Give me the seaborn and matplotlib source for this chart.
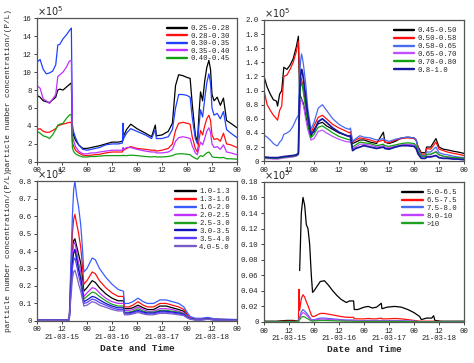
import numpy as np
import pandas as pd
import matplotlib
matplotlib.use('Agg')
import matplotlib.pyplot as plt
import seaborn as sns
from matplotlib.ticker import FuncFormatter

# hours since 21-03-15 00:00, values in units of 1e5 P/L

# ---- panel a: 0.25 - 0.45 um
t_a = [0, 1.5, 3, 4.5, 6, 7.5, 9, 10, 11, 12.5, 14, 15.5, 16.5, 17, 17.5, 18.5, 20, 22, 24, 26,
       28, 30, 33, 36, 39, 41, 41.3, 41.6, 43, 45, 48, 52, 55, 56.8, 57.3, 60, 63, 65, 66.5, 68,
       70, 72, 73.5, 74.5, 76, 77, 77.8, 78.5, 79.5, 80.5, 81.5, 82.5, 83.3, 84, 85, 86.5, 88, 89.5, 91, 93,
       96]
a_025_028 = [7.4, 7.2, 6.8, 6.7, 6.6, 6.9, 7.2, 8.0, 8.1, 8.0, 8.3, 8.6, 8.8, 3.6, 3.0, 2.4, 1.9, 1.5, 1.5, 1.6,
             1.7, 1.8, 2.0, 2.2, 2.2, 2.3, 2.4, 2.9, 3.6, 4.2, 3.7, 3.2, 2.8, 4.1, 2.9, 3.0, 3.4, 4.3, 8.5, 9.7,
             9.6, 9.4, 9.3, 6.5, 3.0, 2.2, 5.5, 7.8, 6.8, 9.0, 10.5, 11.3, 10.3, 7.5, 6.8, 7.2, 6.3, 7.1, 4.6, 4.3,
             3.8]
a_028_030 = [3.6, 3.7, 3.4, 3.3, 3.3, 3.5, 3.7, 4.0, 4.1, 4.2, 4.3, 4.4, 4.4, 2.2, 1.8, 1.3, 1.0, 0.75, 0.7, 0.75,
             0.8, 0.85, 1.0, 1.1, 1.1, 1.1, 1.3, 1.3, 1.5, 1.7, 1.5, 1.4, 1.3, 1.3, 1.2, 1.3, 1.5, 2.0, 3.5, 4.3,
             4.4, 4.3, 4.2, 2.8, 1.5, 1.1, 2.5, 3.5, 3.0, 4.0, 4.8, 5.2, 4.6, 3.0, 2.5, 2.6, 2.3, 3.2, 2.0, 1.9,
             1.6]
a_030_035 = [11.1, 11.4, 10.3, 9.8, 9.9, 10.1, 10.8, 13.0, 13.1, 13.7, 14.1, 14.6, 14.9, 4.2, 3.4, 2.7, 1.9, 1.4, 1.3, 1.4,
             1.5, 1.6, 1.9, 2.0, 2.0, 2.1, 4.3, 2.6, 3.2, 3.7, 3.4, 3.0, 2.6, 3.6, 2.6, 2.6, 2.8, 3.6, 6.0, 7.5,
             7.5, 7.4, 7.2, 5.0, 2.6, 2.0, 4.2, 5.8, 5.0, 7.0, 8.8, 9.8, 8.8, 6.0, 5.2, 5.4, 4.8, 5.6, 3.6, 3.2,
             2.7]
a_035_040 = [8.5, 8.2, 7.0, 6.8, 6.5, 7.0, 7.5, 9.5, 9.7, 10.0, 10.5, 11.2, 11.3, 3.0, 2.4, 1.7, 1.2, 0.9, 0.9, 1.0,
             1.0, 1.1, 1.2, 1.3, 1.3, 1.3, 1.6, 1.4, 1.6, 1.6, 1.4, 1.2, 1.1, 1.1, 1.0, 1.0, 1.1, 1.4, 2.3, 2.7,
             2.8, 2.7, 2.6, 1.8, 1.0, 0.8, 1.6, 2.2, 1.9, 2.6, 3.4, 3.8, 3.3, 2.0, 1.6, 1.7, 1.4, 1.9, 1.1, 1.0,
             0.8]
a_040_045 = [3.4, 3.2, 2.9, 2.8, 2.6, 3.0, 3.6, 4.1, 4.2, 4.3, 4.8, 5.2, 5.3, 1.6, 1.2, 0.9, 0.7, 0.55, 0.55, 0.6,
             0.6, 0.65, 0.7, 0.7, 0.7, 0.7, 0.75, 0.7, 0.7, 0.75, 0.7, 0.6, 0.55, 0.6, 0.55, 0.55, 0.6, 0.7, 0.85, 0.9,
             0.9, 0.85, 0.8, 0.6, 0.4, 0.3, 0.55, 0.7, 0.6, 0.8, 1.0, 1.1, 0.9, 0.6, 0.5, 0.5, 0.45, 0.5, 0.35, 0.35,
             0.3]

# ---- panel b: 0.45 - 1.0 um
t_b = [0, 1.5, 3, 4.5, 6, 6.5, 7.5, 8.5, 9.5, 11, 12.5, 14, 15.5, 16.5,
       17, 17.5, 18, 18.5, 19, 20, 21, 22.5,
       24, 26, 28, 30, 33, 36, 39, 41, 41.5, 42.5, 44, 46, 48, 51, 54, 57.3, 58, 60, 63, 66,
       69, 72, 73, 74, 75.5, 77.5, 78, 80, 82.5, 84, 86, 88, 91, 93, 96]
b_045_050 = [1.2, 1.05, 0.95, 0.87, 0.85, 0.78, 0.95, 1.0, 1.33, 1.3, 1.36, 1.45, 1.62, 1.77,
             1.0, 0.92, 0.88, 0.85, 0.8, 0.65, 0.5, 0.35,
             0.45, 0.53, 0.55, 0.5, 0.45, 0.4, 0.37, 0.35, 0.37, 0.25, 0.27, 0.3, 0.3, 0.27, 0.25, 0.41, 0.27, 0.25, 0.28, 0.33,
             0.34, 0.33, 0.3, 0.2, 0.12, 0.12, 0.2, 0.2, 0.32, 0.2, 0.17, 0.16, 0.14, 0.13, 0.11]
b_050_058 = [1.0, 0.8, 0.72, 0.65, 0.6, 0.58, 0.72, 0.78, 1.2, 1.22, 1.3, 1.4, 1.55, 1.7,
             1.25, 1.2, 1.15, 1.1, 1.0, 0.8, 0.6, 0.4,
             0.5, 0.62, 0.65, 0.6, 0.52, 0.47, 0.43, 0.4, 0.42, 0.27, 0.3, 0.33, 0.32, 0.3, 0.27, 0.3, 0.27, 0.26, 0.3, 0.32,
             0.33, 0.32, 0.3, 0.18, 0.1, 0.1, 0.18, 0.17, 0.27, 0.17, 0.15, 0.13, 0.11, 0.1, 0.08]
b_058_065 = [0.37, 0.34, 0.3, 0.25, 0.22, 0.22, 0.27, 0.3, 0.38, 0.4, 0.43, 0.5, 0.6, 0.65,
             1.1, 1.4, 1.52, 1.45, 1.35, 1.1, 0.75, 0.45,
             0.55, 0.75, 0.8, 0.72, 0.6, 0.52, 0.47, 0.45, 0.47, 0.28, 0.32, 0.36, 0.34, 0.33, 0.3, 0.32, 0.3, 0.28, 0.31, 0.33,
             0.34, 0.33, 0.3, 0.17, 0.08, 0.08, 0.13, 0.13, 0.2, 0.12, 0.1, 0.09, 0.07, 0.06, 0.05]
b_065_070 = [0.04, 0.035, 0.035, 0.03, 0.03, 0.03, 0.035, 0.04, 0.045, 0.05, 0.055, 0.06, 0.07, 0.09,
             0.6, 0.85, 0.88, 0.82, 0.78, 0.6, 0.45, 0.3,
             0.32, 0.42, 0.44, 0.4, 0.35, 0.31, 0.28, 0.27, 0.28, 0.18, 0.2, 0.24, 0.24, 0.23, 0.2, 0.22, 0.2, 0.19, 0.21, 0.23,
             0.24, 0.23, 0.2, 0.12, 0.06, 0.06, 0.09, 0.09, 0.14, 0.09, 0.07, 0.06, 0.05, 0.05, 0.04]
b_070_080 = [0.05, 0.045, 0.04, 0.04, 0.04, 0.04, 0.045, 0.05, 0.055, 0.06, 0.065, 0.07, 0.08, 0.1,
             0.8, 1.05, 1.12, 1.05, 0.95, 0.75, 0.55, 0.33,
             0.38, 0.48, 0.5, 0.46, 0.4, 0.35, 0.32, 0.3, 0.32, 0.2, 0.23, 0.27, 0.26, 0.25, 0.22, 0.24, 0.22, 0.21, 0.23, 0.25,
             0.26, 0.25, 0.22, 0.13, 0.07, 0.07, 0.1, 0.1, 0.13, 0.09, 0.07, 0.06, 0.05, 0.05, 0.04]
b_080_100 = [0.06, 0.055, 0.05, 0.05, 0.05, 0.05, 0.055, 0.06, 0.065, 0.07, 0.075, 0.08, 0.09, 0.11,
             0.9, 1.2, 1.3, 1.25, 1.15, 0.9, 0.65, 0.38,
             0.42, 0.56, 0.6, 0.55, 0.47, 0.41, 0.37, 0.35, 0.36, 0.15, 0.18, 0.2, 0.22, 0.2, 0.18, 0.2, 0.18, 0.17, 0.2, 0.22,
             0.22, 0.21, 0.18, 0.1, 0.04, 0.04, 0.06, 0.06, 0.08, 0.05, 0.04, 0.04, 0.03, 0.03, 0.02]

# ---- panel c: 1.0 - 5.0 um
t_c = [0, 8, 14, 15.5, 16.2, 17, 17.6, 18.2, 19, 20, 21, 21.8, 22.5, 24, 26.5, 28, 30, 33, 36, 39,
       41.5, 42, 44, 46, 48.5, 51, 53, 56, 59, 62, 65, 68, 70.5, 72, 73.5, 76, 79, 82, 85, 90, 96]
c_10_13 = [0.004, 0.004, 0.005, 0.008, 0.2, 0.4, 0.46, 0.47, 0.43, 0.38, 0.33, 0.25, 0.17, 0.19, 0.23, 0.22, 0.19, 0.155, 0.13, 0.115,
           0.115, 0.07, 0.07, 0.075, 0.09, 0.075, 0.065, 0.065, 0.085, 0.085, 0.075, 0.065, 0.055, 0.035, 0.018, 0.01, 0.01, 0.015, 0.009, 0.007, 0.005]
c_13_16 = [0.004, 0.004, 0.005, 0.01, 0.25, 0.5, 0.58, 0.61, 0.56, 0.5, 0.42, 0.32, 0.21, 0.23, 0.28, 0.27, 0.23, 0.19, 0.16, 0.14,
           0.14, 0.08, 0.08, 0.09, 0.11, 0.09, 0.08, 0.08, 0.1, 0.1, 0.09, 0.08, 0.065, 0.04, 0.02, 0.012, 0.012, 0.017, 0.01, 0.008, 0.006]
c_16_20 = [0.005, 0.005, 0.006, 0.01, 0.3, 0.6, 0.75, 0.8, 0.72, 0.65, 0.55, 0.42, 0.28, 0.3, 0.36, 0.35, 0.3, 0.25, 0.21, 0.18,
           0.17, 0.1, 0.1, 0.11, 0.13, 0.11, 0.1, 0.1, 0.12, 0.12, 0.11, 0.1, 0.08, 0.05, 0.025, 0.015, 0.015, 0.02, 0.012, 0.01, 0.008]
c_20_25 = [0.004, 0.004, 0.005, 0.008, 0.2, 0.38, 0.44, 0.45, 0.4, 0.33, 0.28, 0.21, 0.14, 0.16, 0.19, 0.185, 0.16, 0.13, 0.11, 0.1,
           0.1, 0.06, 0.06, 0.065, 0.08, 0.065, 0.055, 0.055, 0.07, 0.07, 0.065, 0.055, 0.045, 0.03, 0.015, 0.009, 0.009, 0.013, 0.008, 0.006, 0.005]
c_25_30 = [0.003, 0.003, 0.004, 0.007, 0.18, 0.34, 0.39, 0.4, 0.36, 0.3, 0.25, 0.19, 0.125, 0.14, 0.165, 0.16, 0.14, 0.115, 0.095, 0.085,
           0.085, 0.05, 0.05, 0.055, 0.07, 0.055, 0.05, 0.05, 0.06, 0.06, 0.055, 0.05, 0.04, 0.025, 0.013, 0.008, 0.008, 0.012, 0.007, 0.005, 0.004]
c_30_35 = [0.003, 0.003, 0.004, 0.007, 0.17, 0.33, 0.39, 0.41, 0.36, 0.29, 0.24, 0.17, 0.11, 0.12, 0.14, 0.135, 0.12, 0.1, 0.085, 0.075,
           0.075, 0.045, 0.045, 0.05, 0.06, 0.05, 0.045, 0.045, 0.055, 0.055, 0.05, 0.045, 0.037, 0.022, 0.012, 0.007, 0.007, 0.011, 0.006, 0.005, 0.004]
c_35_40 = [0.003, 0.003, 0.004, 0.006, 0.15, 0.3, 0.35, 0.36, 0.32, 0.26, 0.21, 0.15, 0.1, 0.105, 0.125, 0.12, 0.105, 0.09, 0.075, 0.065,
           0.065, 0.04, 0.04, 0.045, 0.055, 0.045, 0.04, 0.04, 0.05, 0.05, 0.045, 0.04, 0.033, 0.02, 0.011, 0.006, 0.006, 0.01, 0.006, 0.004, 0.003]
c_40_50 = [0.003, 0.003, 0.004, 0.006, 0.12, 0.24, 0.28, 0.29, 0.26, 0.21, 0.17, 0.125, 0.085, 0.09, 0.11, 0.105, 0.09, 0.078, 0.065, 0.057,
           0.057, 0.035, 0.035, 0.04, 0.048, 0.04, 0.035, 0.035, 0.043, 0.043, 0.04, 0.035, 0.03, 0.018, 0.01, 0.005, 0.005, 0.009, 0.005, 0.004, 0.003]

# ---- panel d: > 5.0 um  (nan = gap in the record)
t_d = [0, 6, 11, 14, 16.5, 16.8, 17.1, 17.9, 18.7, 19.5, 20.3, 21.1, 21.9, 22.7, 23.3, 24, 25.5, 27, 29, 31,
       33, 35, 37, 39.5, 41, 43, 43.3, 45, 48, 50, 52, 54, 56.3, 56.6, 59, 62.7, 66, 69, 72, 74.7,
       75.5, 78, 80.5, 81.4, 82, 85, 90, 96]
d_50_65 = [0.001, 0.001, 0.002, 0.002, 0.001, np.nan, 0.066, 0.14, 0.16, 0.15, 0.125, 0.12, 0.1, 0.06, 0.038, 0.04, 0.046, 0.052, 0.053, 0.047,
           0.04, 0.034, 0.029, 0.025, 0.027, 0.027, 0.016, 0.016, 0.019, 0.02, 0.018, 0.019, 0.024, 0.017, 0.019, 0.02, 0.019, 0.016, 0.012, 0.007,
           0.003, 0.005, 0.005, 0.008, 0.002, 0.001, 0.001, 0.001]
d_65_75 = [0.0005, 0.0005, 0.001, 0.001, 0.001, 0.042, 0.015, 0.03, 0.035, 0.032, 0.026, 0.021, 0.015, 0.009, 0.007, 0.007, 0.009, 0.011, 0.011, 0.01,
           0.009, 0.008, 0.007, 0.006, 0.006, 0.006, 0.004, 0.004, 0.004, 0.0045, 0.004, 0.004, 0.005, 0.004, 0.004, 0.0045, 0.004, 0.003, 0.002, 0.001,
           0.001, 0.001, 0.001, 0.001, 0.0008, 0.0005, 0.0005, 0.0005]
d_75_80 = [0.0003, 0.0003, 0.0005, 0.0005, 0.0005, 0.004, 0.006, 0.013, 0.016, 0.014, 0.012, 0.009, 0.006, 0.003, 0.003, 0.003, 0.004, 0.005, 0.005, 0.0045,
           0.004, 0.0035, 0.003, 0.0025, 0.0025, 0.0025, 0.0015, 0.0015, 0.0018, 0.002, 0.0018, 0.0018, 0.002, 0.0017, 0.0017, 0.0018, 0.0017, 0.0013, 0.001, 0.0006,
           0.0004, 0.0005, 0.0005, 0.0006, 0.0004, 0.0003, 0.0003, 0.0003]
d_80_10 = [0.0003, 0.0003, 0.0004, 0.0004, 0.0004, 0.003, 0.005, 0.01, 0.012, 0.011, 0.009, 0.007, 0.0045, 0.0025, 0.0022, 0.0023, 0.003, 0.0037, 0.0037, 0.0033,
           0.003, 0.0026, 0.0022, 0.0019, 0.0019, 0.0019, 0.0012, 0.0012, 0.0014, 0.0015, 0.0014, 0.0014, 0.0016, 0.0013, 0.0013, 0.0014, 0.0013, 0.001, 0.0008, 0.0005,
           0.0003, 0.0004, 0.0004, 0.0005, 0.0003, 0.0003, 0.0002, 0.0002]
d_gt10 = [0.0002, 0.0002, 0.0003, 0.0003, 0.0003, 0.002, 0.003, 0.006, 0.007, 0.0065, 0.005, 0.004, 0.0025, 0.0014, 0.0012, 0.0013, 0.0017, 0.002, 0.002, 0.0018,
          0.0016, 0.0014, 0.0012, 0.001, 0.001, 0.001, 0.0007, 0.0007, 0.0008, 0.0008, 0.0008, 0.0008, 0.0009, 0.0007, 0.0007, 0.0008, 0.0007, 0.0006, 0.0005, 0.0003,
          0.0002, 0.0002, 0.0002, 0.0003, 0.0002, 0.0002, 0.0001, 0.0001]

hour_ticks = [0, 12, 24, 36, 48, 60, 72, 84, 96]
hour_labels = ['00', '12', '00', '12', '00', '12', '00', '12', '00']
dates = ['21-03-15', '21-03-16', '21-03-17', '21-03-18']


def trace(ax, t, v, color, lw, label):
    d = pd.DataFrame({'t': t, 'v': v})
    seg = d['v'].isna().cumsum()
    for i, (_, part) in enumerate(d.dropna().groupby(seg[d['v'].notna()])):
        sns.lineplot(data=part, x='t', y='v', ax=ax, color=color, lw=lw,
                     label=label if i == 0 else None, estimator=None, sort=False)


def style(ax, ymax, ystep, dec, bottom, lspace):
    ax.set_xlim(0, 96)
    ax.set_ylim(0, ymax)
    ax.set_yticks(np.arange(0, ymax + ystep / 2, ystep))
    ax.yaxis.set_major_formatter(FuncFormatter(lambda v, p: '0' if abs(v) < 1e-9 else f'{v:.{dec}f}'))
    ax.set_xticks(hour_ticks)
    if bottom:
        labs = list(hour_labels)
        for k, dt in enumerate(dates):
            labs[2 * k + 1] = labs[2 * k + 1] + '\n' + dt
        ax.set_xticklabels(labs, linespacing=1.1)
        ax.set_xlabel('Date and Time', fontsize=6.8, fontweight='bold', labelpad=2)
    else:
        ax.set_xticklabels(hour_labels)
        ax.set_xlabel('')
    ax.set_ylabel('')
    ax.tick_params(labelsize=5.3, length=2, width=0.6, pad=2, colors='#222222')
    for s in ax.spines.values():
        s.set_color('#555555')
        s.set_linewidth(0.9)
    ax.text(0.0, 1.0, r'$\times10^5$', transform=ax.transAxes, ha='left', va='bottom',
            fontsize=7, family='DejaVu Sans')
    leg = ax.legend(loc='upper right', frameon=False, fontsize=5.2, handlelength=2.8,
                    handletextpad=0.5, labelspacing=lspace, borderaxespad=0.6)
    for ln in leg.get_lines():
        ln.set_linewidth(1.7)


sns.set_theme(style='ticks')
plt.rcParams['font.family'] = ['Liberation Mono', 'DejaVu Sans']
plt.rcParams['mathtext.fontset'] = 'dejavusans'

fig = plt.figure(figsize=(4.74, 3.63), dpi=100)
ax_a = fig.add_axes([0.078, 0.554, 0.422, 0.396])
ax_b = fig.add_axes([0.557, 0.556, 0.422, 0.389])
ax_c = fig.add_axes([0.078, 0.116, 0.422, 0.385])
ax_d = fig.add_axes([0.557, 0.113, 0.422, 0.386])

for v, c, lab in [(a_025_028, '#000000', '0.25-0.28'), (a_028_030, '#ff1010', '0.28-0.30'),
                  (a_030_035, '#2040ff', '0.30-0.35'), (a_035_040, '#c030ff', '0.35-0.40'),
                  (a_040_045, '#10a010', '0.40-0.45')]:
    trace(ax_a, t_a, v, c, 0.9, lab)
style(ax_a, 16, 2, 0, False, 0.05)

for v, c, lw, lab in [(b_045_050, '#000000', 0.9, '0.45-0.50'), (b_050_058, '#ff1010', 0.9, '0.50-0.58'),
                      (b_058_065, '#4a6af0', 0.9, '0.58-0.65'), (b_065_070, '#c050ff', 0.9, '0.65-0.70'),
                      (b_070_080, '#10a010', 0.9, '0.70-0.80'), (b_080_100, '#1a1aa0', 1.3, '0.8-1.0')]:
    trace(ax_b, t_b, v, c, lw, lab)
style(ax_b, 2.0, 0.2, 1, False, 0.12)

for v, c, lab in [(c_10_13, '#000000', '1.0-1.3'), (c_13_16, '#ff1010', '1.3-1.6'),
                  (c_16_20, '#3a5cff', '1.6-2.0'), (c_20_25, '#c030ff', '2.0-2.5'),
                  (c_25_30, '#20a020', '2.5-3.0'), (c_30_35, '#1010c0', '3.0-3.5'),
                  (c_35_40, '#5a3cff', '3.5-4.0'), (c_40_50, '#7a5cc8', '4.0-5.0')]:
    trace(ax_c, t_c, v, c, 0.9, lab)
style(ax_c, 0.8, 0.1, 1, True, 0.12)

for v, c, lab in [(d_50_65, '#000000', '5.0-6.5'), (d_65_75, '#ff1010', '6.5-7.5'),
                  (d_75_80, '#4a6af0', '7.5-8.0'), (d_80_10, '#c040ff', '8.0-10'),
                  (d_gt10, '#20a020', '>10')]:
    trace(ax_d, t_d, v, c, 0.9, lab)
style(ax_d, 0.18, 0.02, 2, True, 0.12)

for ax in (ax_a, ax_c):
    ax.set_ylabel('particle number concentration/(P/L)', fontsize=5.6)
    ax.yaxis.set_label_coords(-0.125, 0.5)

fig.savefig('out.png', dpi=100)
